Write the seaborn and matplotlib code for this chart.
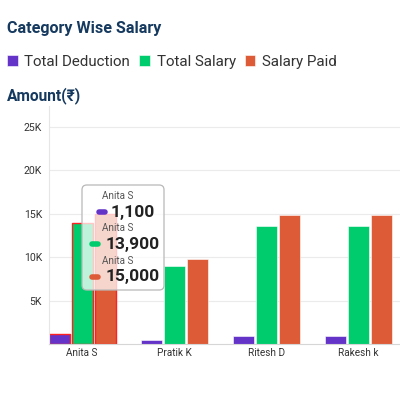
import matplotlib
matplotlib.use("Agg")
import matplotlib.pyplot as plt
import seaborn as sns
import pandas as pd
from matplotlib.patches import FancyBboxPatch
from matplotlib.lines import Line2D

categories = ["Anita S", "Pratik K", "Ritesh D", "Rakesh k"]
total_deduction = [1100, 500, 900, 900]
total_salary = [13900, 9000, 13600, 13600]
salary_paid = [15000, 9800, 14800, 14800]
series_names = ["Total Deduction", "Total Salary", "Salary Paid"]
colors = ["#6434c8", "#00cc6d", "#de5b37"]
y_ticks = [5000, 10000, 15000, 20000, 25000]
y_tick_labels = ["5K", "10K", "15K", "20K", "25K"]

rows = []
for name, vals in zip(series_names, [total_deduction, total_salary, salary_paid]):
    for c, v in zip(categories, vals):
        rows.append({"Employee": c, "Series": name, "Amount": v})
df = pd.DataFrame(rows)

sns.set_theme(style="white")
plt.rcParams["font.family"] = ["Roboto", "DejaVu Sans"]

fig = plt.figure(figsize=(4, 4), dpi=100)
ax = fig.add_axes([0.1225, 0.14, 0.8775, 0.595])

sns.barplot(data=df, x="Employee", y="Amount", hue="Series", order=categories,
            hue_order=series_names, palette=colors, width=0.75, gap=0.08,
            saturation=1, ax=ax, legend=True, edgecolor="white", linewidth=0.4)

handles, labels = ax.get_legend_handles_labels()
ax.get_legend().remove()

# highlight hovered category
for p in ax.patches:
    cx = p.get_x() + p.get_width() / 2
    if -0.5 < cx < 0.5 and p.get_height() > 0:
        p.set_edgecolor("#ff2020")
        p.set_linewidth(1.0)

ax.set_xlim(-0.36, 3.454)
ax.set_ylim(0, 27400)
ax.set_yticks(y_ticks)
ax.set_yticklabels(y_tick_labels)
ax.yaxis.grid(True, color="#ebebeb", linewidth=0.8)
ax.set_axisbelow(True)
ax.set_xlabel("")
ax.set_ylabel("")
ax.tick_params(axis="y", length=0, labelsize=7.6, labelcolor="#333333", pad=5)
ax.tick_params(axis="x", length=0, labelsize=7.2, labelcolor="#333333", pad=3)
for s in ["top", "right"]:
    ax.spines[s].set_visible(False)
ax.spines["left"].set_color("#e6e6e6")
ax.spines["bottom"].set_color("#d6d6d6")
ax.spines["left"].set_linewidth(0.8)
ax.spines["bottom"].set_linewidth(0.8)

def px(x, y):
    return (x / 400, 1 - y / 400)

navy = "#163a5f"
fig.text(*px(7, 29), "Category Wise Salary", fontsize=11.6, fontweight="bold",
         color=navy, va="center", ha="left")
fig.text(*px(7, 96), "Amount(₹)", fontsize=11.2, fontweight="bold",
         color=navy, va="center", ha="left", family=["Roboto", "DejaVu Sans"])

fig.legend(handles, labels, loc="center left", bbox_to_anchor=px(7, 62),
           ncol=3, frameon=False, fontsize=10.9, handlelength=0.7,
           handleheight=0.7, handletextpad=0.45, columnspacing=0.6,
           borderaxespad=0, borderpad=0, labelcolor="#333333")

# tooltip
box_x0, box_y0, box_x1, box_y1 = 82, 185, 164, 290
bx, by = px(box_x0, box_y1)
bw = (box_x1 - box_x0) / 400
bh = (box_y1 - box_y0) / 400
tip = FancyBboxPatch((bx, by), bw, bh, boxstyle="round,pad=0,rounding_size=0.012",
                     transform=fig.transFigure, facecolor="white", alpha=0.75,
                     edgecolor="none", zorder=5)
fig.add_artist(tip)
tip_edge = FancyBboxPatch((bx, by), bw, bh, boxstyle="round,pad=0,rounding_size=0.012",
                          transform=fig.transFigure, facecolor="none",
                          edgecolor="#b8b8b8", linewidth=0.9, zorder=6)
fig.add_artist(tip_edge)

values0 = [total_deduction[0], total_salary[0], salary_paid[0]]
name_y = [196, 228, 261]
val_y = [212, 244, 277]
pill_x = [101.5, 95, 95]
for i in range(3):
    fig.text(*px(118, name_y[i]), categories[0], fontsize=7.2, color="#555555",
             ha="center", va="center", zorder=7)
    vtxt = f"{values0[i]:,}"
    fig.text(*px(133, val_y[i]), vtxt, fontsize=12.5,
             fontweight="bold", color="#222222", ha="center", va="center", zorder=7)
    cx = pill_x[i]
    x0, y0 = px(cx - 3.0, val_y[i])
    x1, _ = px(cx + 3.0, val_y[i])
    fig.add_artist(Line2D([x0, x1], [y0, y0], transform=fig.transFigure,
                          color=colors[i], linewidth=4.0, solid_capstyle="round",
                          zorder=7))

fig.savefig("out.png", dpi=100)
